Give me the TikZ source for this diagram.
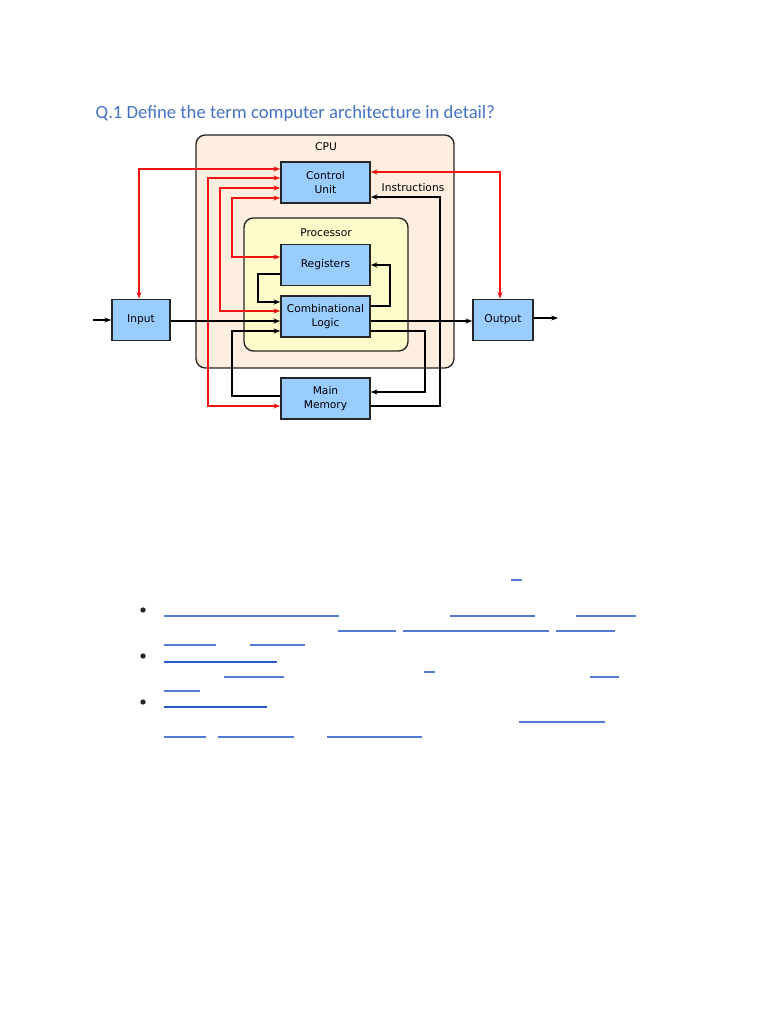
\documentclass[tikz,border=0pt]{standalone}
\usepackage{fontspec}
\setmainfont{DejaVu Sans}
\newfontfamily\titlefont{Carlito}
\usetikzlibrary{arrows.meta}
\definecolor{cpubg}{RGB}{253,238,224}
\definecolor{procbg}{RGB}{255,252,204}
\definecolor{boxblue}{RGB}{153,204,255}
\definecolor{redl}{RGB}{240,20,20}
\definecolor{titleblue}{RGB}{68,114,196}
\definecolor{linkblue}{RGB}{40,90,200}
\tikzset{
  blk/.style={draw=black!85, line width=1.2pt, fill=boxblue, minimum width=66.75pt, minimum height=30.75pt, inner sep=0pt, align=center, font=\fontsize{8}{10}\selectfont},
  redw/.style={draw=redl, line width=1.3pt, {Stealth[length=5pt]}-{Stealth[length=5pt]}},
  blkw/.style={draw=black, line width=1.3pt, -{Stealth[length=5pt]}},
  ul/.style={draw=linkblue!80, line width=0.9pt},
  lbl/.style={font=\fontsize{8}{10}\selectfont}
}
\begin{document}
\begin{tikzpicture}[x=0.75pt,y=-0.75pt]
\useasboundingbox[fill=white] (0,0) rectangle (768,1024);
\node[anchor=west, text=titleblue, font=\titlefont\fontsize{14}{16}\selectfont] (title) at (91,114) {Q.1 Define the term computer architecture in detail?};
\draw[fill=cpubg, draw=black!85, line width=1pt, rounded corners=7pt] (196,135) rectangle (454,368);
\node[lbl] (cpu) at (326,147) {CPU};
\draw[fill=procbg, draw=black!85, line width=1pt, rounded corners=7pt] (244,218) rectangle (408,351);
\node[lbl] (proc) at (326,233) {Processor};
\node[blk] (cu) at (325.5,182.5) {Control\\Unit};
\node[blk] (reg) at (325.5,265) {Registers};
\node[blk] (cl) at (325.5,316.5) {Combinational\\Logic};
\node[blk] (mm) at (325.5,398.5) {Main\\Memory};
\node[blk, minimum width=43.5pt] (in) at (141,320) {Input};
\node[blk, minimum width=45pt] (out) at (503,320) {Output};
\node[lbl] (instr) at (413,188) {Instructions};
% red
\draw[redw] (in.north -| 139,0) |- (cu.west |- 0,169);
\draw[redw] (cu.west |- 0,178) -| (208,300) |- (mm.west |- 0,406);
\draw[redw] (cu.west |- 0,188) -| (220,300) |- (cl.west |- 0,311);
\draw[redw] (cu.west |- 0,198) -| (232,230) |- (reg.west |- 0,257);
\draw[redw] (cu.east |- 0,172) -| (out.north -| 500,0);
% black
\coordinate (src) at (93,320);
\coordinate (sink) at (558,318);
\draw[blkw] (src) -- (in.west |- src);
\draw[blkw] (in.east |- 0,321) -- (cl.west |- 0,321);
\draw[blkw] (cl.east |- 0,321) -- (out.west |- 0,321);
\draw[blkw] (out.east |- sink) -- (sink);
\draw[blkw] (reg.west |- 0,274) -| (258,290) |- (cl.west |- 0,302);
\draw[blkw] (cl.east |- 0,306) -| (390,280) |- (reg.east |- 0,265);
\draw[blkw] (mm.west |- 0,396) -| (232,360) |- (cl.west |- 0,331);
\draw[blkw] (cl.east |- 0,331) -| (425,360) |- (mm.east |- 0,392);
\draw[blkw] (mm.east |- 0,406) -| (440,300) |- (cu.east |- 0,197);
% bullets
\foreach \y/\n in {610/b1,656/b2,702/b3} \node[circle, fill=black!85, inner sep=0pt, minimum size=4pt] (\n) at (143,\y) {};
% underlines
\draw[ul] (511,580) -- (522,580);
\draw[ul] (164,616) -- (339,616); \draw[ul] (450,616) -- (535,616); \draw[ul] (576,616) -- (636,616);
\draw[ul] (338,631) -- (396,631); \draw[ul] (403,631) -- (549,631); \draw[ul] (556,631) -- (615,631);
\draw[ul] (164,645) -- (216,645); \draw[ul] (250,645) -- (305,645);
\draw[ul, draw=linkblue!100!black, line width=1.3pt] (164,662) -- (277,662);
\draw[ul] (224,677) -- (284,677); \draw[ul] (424,672) -- (435,672); \draw[ul] (590,677) -- (619,677);
\draw[ul] (164,691) -- (200,691);
\draw[ul, draw=linkblue!100!black, line width=1.3pt] (164,707) -- (267,707);
\draw[ul] (519,722) -- (605,722);
\draw[ul] (164,737) -- (206,737); \draw[ul] (218,737) -- (294,737); \draw[ul] (327,737) -- (422,737);
\end{tikzpicture}
\end{document}
